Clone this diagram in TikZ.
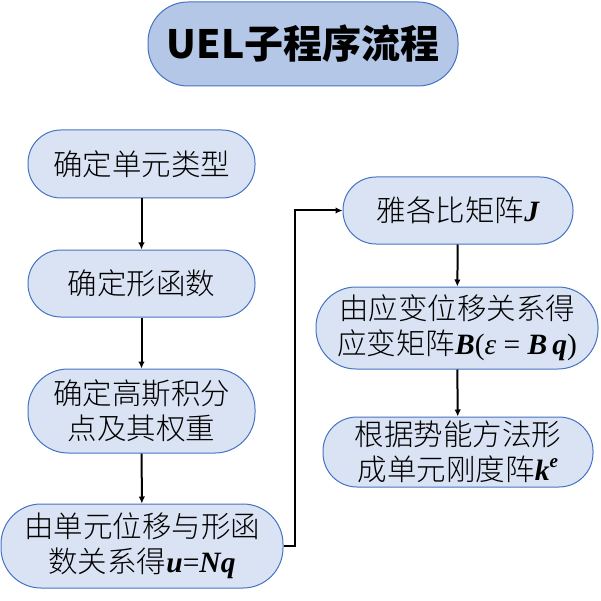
\documentclass[tikz,border=0pt]{standalone}
\usepackage{fontspec}
\newfontfamily\cjk{Noto Sans CJK SC}
\newfontfamily\cjkl{Noto Sans CJK SC Light}
\newfontfamily\tms{Liberation Serif}
\newcommand\bv[1]{{\tms\bfseries\itshape #1}}
\newcommand\iv[1]{{\tms\itshape #1}}
\definecolor{boxfill}{HTML}{DAE3F3}
\definecolor{titlefill}{HTML}{B4C7E7}
\definecolor{boxline}{HTML}{4472C4}
\usetikzlibrary{arrows.meta,calc}
\begin{document}
\begin{tikzpicture}[x=1pt,y=1pt,
  flowbox/.style={draw=boxline, fill=boxfill, line width=1pt, inner sep=0pt,
    align=center, font=\cjkl\fontsize{29.5}{35}\selectfont},
  titlebox/.style={draw=boxline, fill=titlefill, line width=1pt, inner sep=0pt,
    rounded corners=40pt, minimum width=310pt, minimum height=84pt,
    font=\cjk\bfseries\fontsize{39}{44}\selectfont},
  conn/.style={line width=2pt, -{Latex[length=7pt,width=6.5pt]}}]
\useasboundingbox (0,0) rectangle (600,-601);
\node[titlebox] (T) at (303,-44) {UEL子程序流程};
\node[flowbox, rounded corners=33pt, minimum width=227pt, minimum height=68pt] (B1) at (141.5,-164) {确定单元类型};
\node[flowbox, rounded corners=33pt, minimum width=227pt, minimum height=67pt] (B2) at (141.5,-283.5) {确定形函数};
\node[flowbox, rounded corners=40pt, minimum width=227pt, minimum height=84pt] (B3) at (141.5,-411) {确定高斯积分\\点及其权重};
\node[flowbox, rounded corners=40pt, minimum width=282pt, minimum height=84pt] (B4) at (142,-546) {由单元位移与形函\\数关系得\bv{u}{\tms=}\bv{Nq}};
\node[flowbox, rounded corners=33pt, minimum width=230pt, minimum height=67pt] (B5) at (458,-210.5) {雅各比矩阵\bv{J}};
\node[flowbox, rounded corners=40pt, minimum width=282pt, minimum height=82pt] (B6) at (457,-328) {由应变位移关系得\\应变矩阵\bv{B}{\tms(}\iv{ε}{\tms\ =\ }\bv{B\,q}{\tms)}};
\node[flowbox, rounded corners=34pt, minimum width=270pt, minimum height=70pt] (B7) at (458,-452) {根据势能方法形\\成单元刚度阵\bv{k}\raisebox{0.45em}{\fontsize{19}{20}\selectfont\bv{e}}};
\coordinate (bend) at (295,0);
\draw[conn] (B1) -- (B2);
\draw[conn] (B2) -- (B3);
\draw[conn] (B3) -- (B4);
\draw[conn] (B4.east) -- (B4.east -| bend) |- (B5.west);
\draw[conn] (B5) -- (B6);
\draw[conn] (B6) -- (B7);
\end{tikzpicture}
\end{document}
